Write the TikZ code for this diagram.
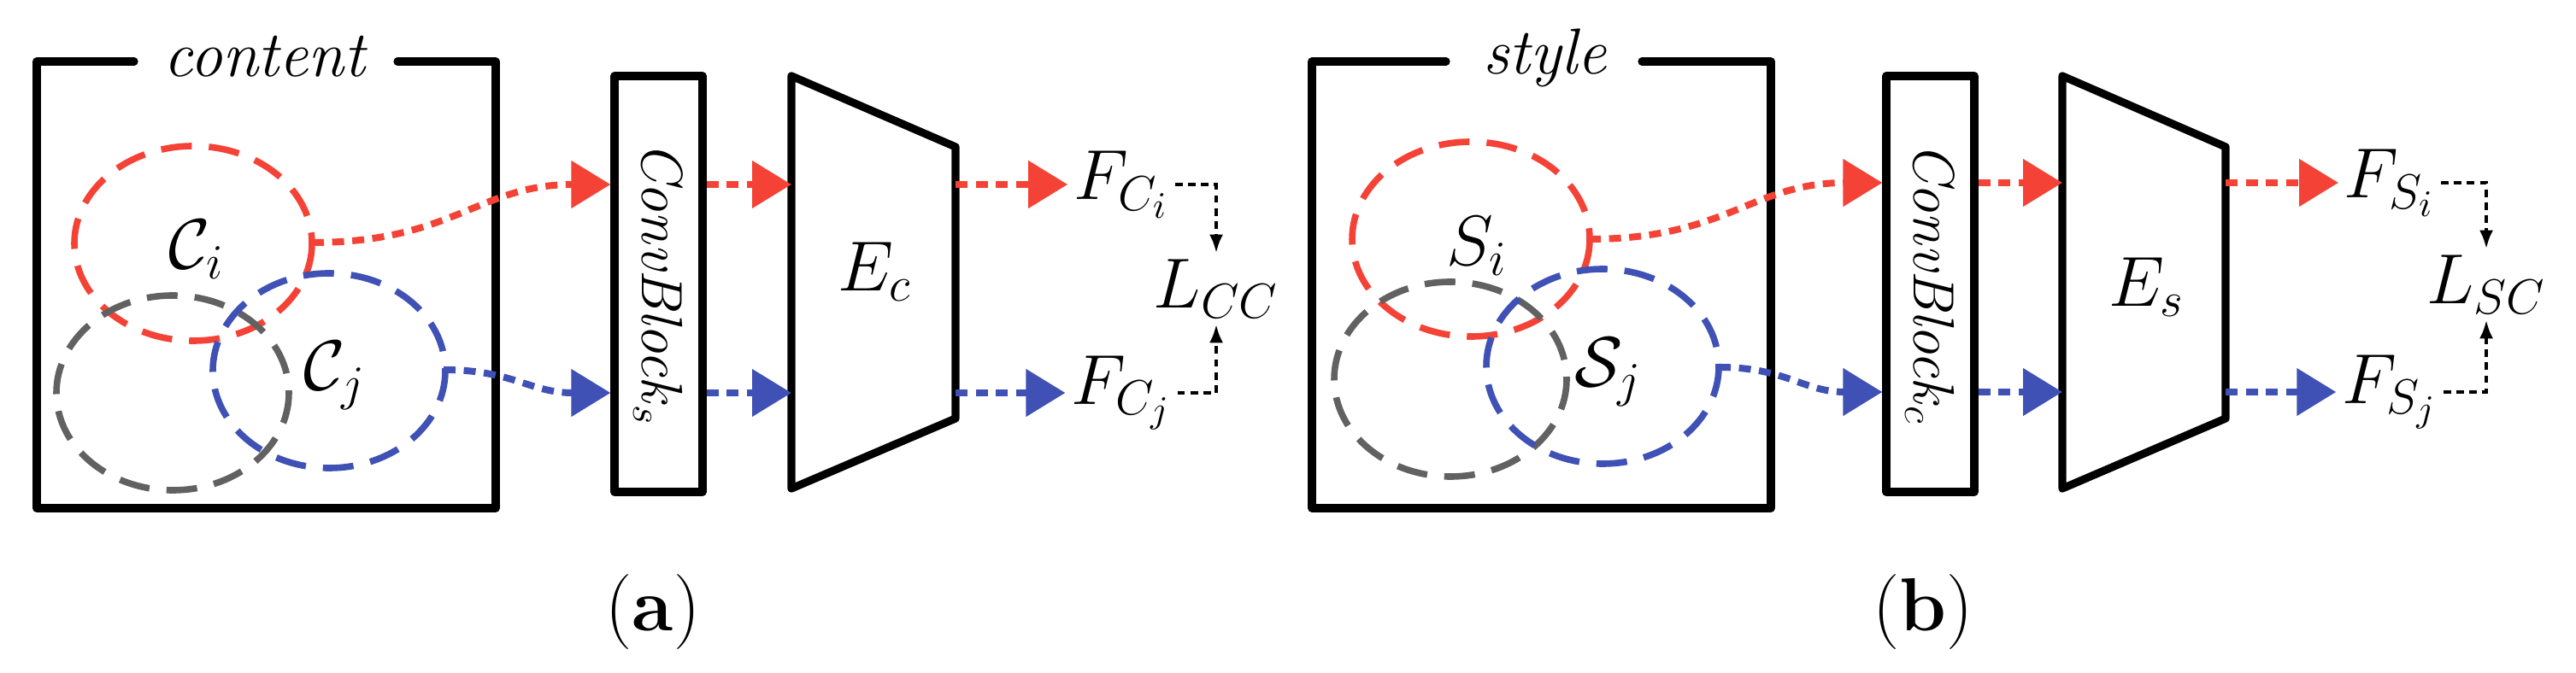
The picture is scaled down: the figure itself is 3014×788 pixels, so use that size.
\documentclass[tikz,border=0pt]{standalone}
\usetikzlibrary{arrows.meta}
\definecolor{myred}{HTML}{F44336}
\definecolor{myblue}{HTML}{3F51B5}
\definecolor{mygray}{HTML}{616161}
\begin{document}
\begin{tikzpicture}[x=0.25pt,y=-0.25pt,
  frame/.style={line width=2.3pt,line cap=round,line join=round},
  circ/.style={line width=1.9pt,dash pattern=on 9pt off 5pt},
  flow/.style={line width=2pt,dash pattern=on 3.5pt off 2.4pt,-{Triangle[length=11.5pt,width=13.5pt]}},
  loss/.style={line width=1.1pt,dash pattern=on 2.2pt off 1.6pt,-{Latex[length=5.5pt,width=4pt]}},
  txt/.style={font=\fontsize{19}{22}\selectfont,inner sep=1.5pt},
  cbtxt/.style={font=\fontsize{17}{20}\selectfont,inner sep=1.5pt},
  lab/.style={font=\fontsize{22}{26}\selectfont,inner sep=1.5pt},
  mtxt/.style={font=\fontsize{21}{24}\selectfont,inner sep=1.5pt}]
\useasboundingbox (0,0) rectangle (3014,788);
% ---------- panel a
\draw[frame] (157,72) -- (43,72) -- (43,595) -- (580,595) -- (580,72) -- (465,72);
\node[txt] (content) at (311,66) {\textit{content}};
\draw[circ,myred] (226,285) ellipse [x radius=139,y radius=114];
\draw[circ,mygray] (202,460) ellipse [x radius=136,y radius=114];
\draw[circ,myblue] (385,434) ellipse [x radius=136,y radius=114];
\coordinate (ri) at (365,284);
\coordinate (bj) at (519,433);
\node[mtxt] (ci) at (230,292) {$\mathcal{C}_i$};
\node[mtxt] (cj) at (392,440) {$\mathcal{C}_j$};
\node[frame,draw,minimum width=103*0.25pt,minimum height=487*0.25pt,inner sep=0] (cba) at (770.5,332.5) {};
\node[cbtxt,rotate=-90] at (cba) {\textit{ConvBlock}$_s$};
\draw[frame] (926,89) -- (1118,172) -- (1118,490) -- (926,572) -- cycle;
\coordinate (ta1) at (926,216); \coordinate (ta2) at (926,460);
\coordinate (tb1) at (1118,216); \coordinate (tb2) at (1118,460);
\node[mtxt] (ec) at (1024,318) {$E_c$};
\node[mtxt] (fci) at (1312,216) {$F_{C_i}$};
\node[mtxt] (fcj) at (1312,460) {$F_{C_j}$};
\node[mtxt] (lcc) at (1423,338) {$L_{CC}$};
\draw[flow,myred] (ri) .. controls (530,284) and (560,216) .. (cba.west |- ta1);
\draw[flow,myblue] (bj) .. controls (600,433) and (620,460) .. (cba.west |- ta2);
\draw[flow,myred] (cba.east |- ta1) -- (ta1);
\draw[flow,myblue] (cba.east |- ta2) -- (ta2);
\draw[flow,myred] (tb1) -- (fci.west);
\draw[flow,myblue] (tb2) -- (fcj.west);
\draw[loss] (fci.east) -| (lcc.north);
\draw[loss] (fcj.east) -| (lcc.south);
\node[lab] (la) at (764,717) {(\textbf{a})};
% ---------- panel b
\draw[frame] (1692,72) -- (1535,72) -- (1535,595) -- (2072,595) -- (2072,72) -- (1921,72);
\node[txt] (style) at (1808,68) {\textit{style}};
\draw[circ,myred] (1721,280) ellipse [x radius=139,y radius=114];
\draw[circ,mygray] (1697,444) ellipse [x radius=136,y radius=114];
\draw[circ,myblue] (1875,429) ellipse [x radius=136,y radius=114];
\coordinate (rsi) at (1859,280);
\coordinate (bsj) at (2011,430);
\node[mtxt] (si) at (1728,288) {$S_i$};
\node[mtxt] (sj) at (1882,436) {$\mathcal{S}_j$};
\node[frame,draw,minimum width=103*0.25pt,minimum height=487*0.25pt,inner sep=0] (cbb) at (2258.5,332.5) {};
\node[cbtxt,rotate=-90] at (cbb) {\textit{ConvBlock}$_c$};
\draw[frame] (2413,89) -- (2604,172) -- (2604,490) -- (2413,572) -- cycle;
\coordinate (ua1) at (2413,214); \coordinate (ua2) at (2413,459);
\coordinate (ub1) at (2604,214); \coordinate (ub2) at (2604,459);
\node[mtxt] (es) at (2512,336) {$E_s$};
\node[mtxt] (fsi) at (2796,214) {$F_{S_i}$};
\node[mtxt] (fsj) at (2796,459) {$F_{S_j}$};
\node[mtxt] (lsc) at (2909,333) {$L_{SC}$};
\draw[flow,myred] (rsi) .. controls (2020,280) and (2050,214) .. (cbb.west |- ua1);
\draw[flow,myblue] (bsj) .. controls (2090,430) and (2110,459) .. (cbb.west |- ua2);
\draw[flow,myred] (cbb.east |- ua1) -- (ua1);
\draw[flow,myblue] (cbb.east |- ua2) -- (ua2);
\draw[flow,myred] (ub1) -- (fsi.west);
\draw[flow,myblue] (ub2) -- (fsj.west);
\draw[loss] (fsi.east) -| (lsc.north);
\draw[loss] (fsj.east) -| (lsc.south);
\node[lab] (lb) at (2250,717) {(\textbf{b})};
\end{tikzpicture}
\end{document}
